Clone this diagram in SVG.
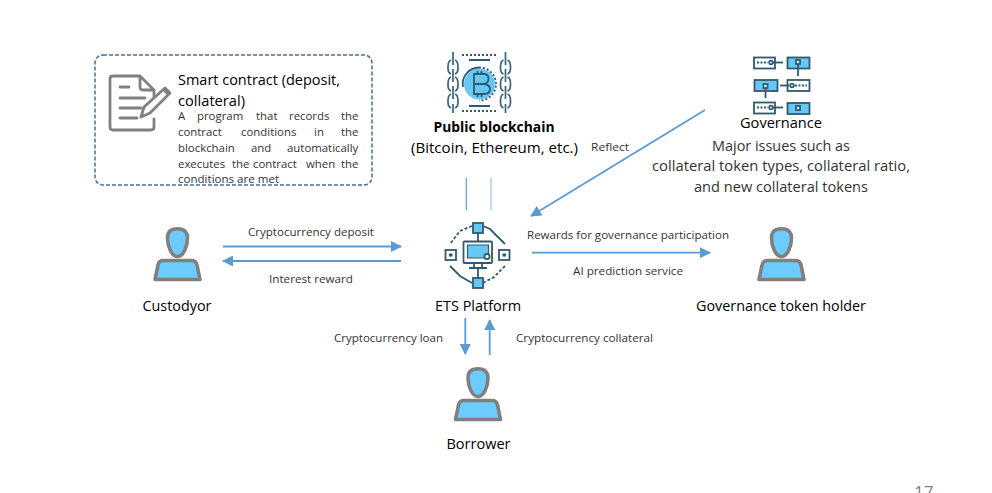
<svg xmlns="http://www.w3.org/2000/svg" width="992" height="493" viewBox="0 0 992 493">
<style>
text{font-family:"Open Sans","Noto Sans","Liberation Sans",sans-serif;fill:#000}
.t{font-size:15px;text-anchor:middle}
.d{font-size:15px;text-anchor:middle;fill:#333}
.s{font-size:11.4px;fill:#333}
.m{text-anchor:middle}
.c{fill:none;stroke:#5b9bd5;stroke-width:1.8}
.i{fill:none;stroke:#31596f;stroke-width:1.8}
.b{fill:#66c8f5;stroke:#31596f;stroke-width:1.8}
.w{fill:#fff;stroke:#31596f;stroke-width:1.8}
.g{fill:none;stroke:#808080;stroke-width:2.800;stroke-linecap:round;stroke-linejoin:round}
</style>
<defs>
<marker id="a" markerUnits="userSpaceOnUse" markerWidth="11" markerHeight="11" refX="10" refY="5.500" orient="auto"><path d="M0 0L11 5.500L0 11Z" fill="#5b9bd5"/></marker>
<symbol id="person" width="50" height="55" viewBox="0 0 50 55" overflow="visible">
<path d="M24.500 1.800C17 1.800 14.500 6 14.500 11C14.500 19 18.500 29.500 24.500 29.500C30.500 29.500 34.500 19 34.500 11C34.500 6 32 1.800 24.500 1.800Z" fill="#6ccbff" stroke="#808080" stroke-width="3.600"/>
<path d="M2 52.500L5 38Q6 33.500 10.500 33.500L38.500 33.500Q43 33.500 44 38L47 52.500Z" fill="#6ccbff" stroke="#808080" stroke-width="3.600" stroke-linejoin="round"/>
</symbol>
<g id="chain" fill="none" stroke="#3b6478" stroke-width="1.700">
<path d="M5 0V13M0 15Q0 9 3 8M10 15Q10 9 7 8M0 15V16Q0 21 3 22M10 15V16Q10 21 7 22"/>
<path d="M5 17V30M0 32Q0 26 3 25M10 32Q10 26 7 25M0 32V33Q0 38 3 39M10 32V33Q10 38 7 39"/>
<path d="M5 34V47M0 49Q0 43 3 42M10 49Q10 43 7 42M0 49V50Q0 55 3 56M10 49V50Q10 55 7 56M5 52V61"/>
</g>
</defs>
<rect width="992" height="493" fill="#fff"/>

<g id="connectors">
<path class="c" d="M466.300 178V210" style="stroke-width:1.200"/>
<path class="c" d="M491 178V210" style="stroke-width:1.200" opacity=".6"/>
<path class="c" d="M705 110L531 216" marker-end="url(#a)"/>
<path class="c" d="M223 246.500H401" marker-end="url(#a)"/>
<path class="c" d="M401 261H223" marker-end="url(#a)"/>
<path class="c" d="M532 252.700H710" marker-end="url(#a)"/>
<path class="c" d="M465.300 318V354" marker-end="url(#a)"/>
<path class="c" d="M489.700 355V320" marker-end="url(#a)"/>
</g>

<g id="edge-labels">
<text class="s m" x="311" y="236" textLength="126" lengthAdjust="spacingAndGlyphs">Cryptocurrency deposit</text>
<text class="s m" x="311" y="283" textLength="84" lengthAdjust="spacingAndGlyphs">Interest reward</text>
<text class="s m" x="628" y="239" textLength="202" lengthAdjust="spacingAndGlyphs">Rewards for governance participation</text>
<text class="s m" x="628" y="275" textLength="110" lengthAdjust="spacingAndGlyphs">AI prediction service</text>
<text class="s m" x="388.500" y="342" textLength="109" lengthAdjust="spacingAndGlyphs">Cryptocurrency loan</text>
<text class="s m" x="584.500" y="342" textLength="137" lengthAdjust="spacingAndGlyphs">Cryptocurrency collateral</text>
<text class="s" x="591" y="151" textLength="38" lengthAdjust="spacingAndGlyphs">Reflect</text>
</g>

<g id="smart-contract">
<rect x="95" y="55" width="277" height="130" rx="8" fill="none" stroke="#41719c" stroke-width="1.500" stroke-dasharray="4 2"/>
<path class="g" d="M140 76H113Q110 76 110 79V127Q110 130 113 130H151Q154 130 154 127V119M154 97V90L140 76V87Q140 90 143 90H154"/>
<path class="g" d="M120 87H129M120 98H145M120 108H141M120 118H137"/>
<path d="M141 117L144 107L165 88L170 93L150 113Z" fill="#fff" stroke="#808080" stroke-width="2.800" stroke-linejoin="round"/>
<path d="M164 89L169.500 94.500" stroke="#808080" stroke-width="4"/>
<text x="178" y="85" font-size="15" textLength="162" lengthAdjust="spacingAndGlyphs">Smart contract (deposit,</text>
<text x="178" y="106" font-size="15" textLength="67" lengthAdjust="spacingAndGlyphs">collateral)</text>
<text class="s" y="120"><tspan x="178">A</tspan><tspan x="197">program</tspan><tspan x="256">that</tspan><tspan x="289">records</tspan><tspan x="341">the</tspan></text>
<text class="s" y="136"><tspan x="178">contract</tspan><tspan x="241">conditions</tspan><tspan x="314">in</tspan><tspan x="341">the</tspan></text>
<text class="s" y="152"><tspan x="178">blockchain</tspan><tspan x="251">and</tspan><tspan x="287">automatically</tspan></text>
<text class="s" y="168"><tspan x="178">executes</tspan><tspan x="232">the</tspan><tspan x="253">contract</tspan><tspan x="306">when</tspan><tspan x="341">the</tspan></text>
<text class="s" x="178" y="183" textLength="101" lengthAdjust="spacingAndGlyphs">conditions are met</text>
</g>

<g id="public-blockchain">
<use href="#chain" x="448" y="52"/>
<use href="#chain" x="500.500" y="52"/>
<path class="i" d="M462 55H497M462 111H497" stroke-dasharray="2 2"/>
<path class="i" d="M469 60H490M469 106H490"/>
<circle cx="479.500" cy="84" r="15.500" fill="#66c8f5"/>
<path class="i" d="M463 87A16.500 16.500 0 0 1 479 67.500"/>
<path class="i" d="M479 67.500A16.500 16.500 0 0 1 496 84A16.500 16.500 0 0 1 479 100.500" stroke-dasharray="2 2"/>
<path class="i" d="M474 74H484Q488.500 74 488.500 79Q488.500 83 484 84Q490 85 490 89Q490 94 484 94H474ZM474 84H484M477.500 71V74M481.500 71V74M477.500 94V97M481.500 94V97"/>
<text class="t" x="494" y="132" font-weight="700" textLength="121" lengthAdjust="spacingAndGlyphs">Public blockchain</text>
<text class="t" x="494.500" y="153" textLength="167" lengthAdjust="spacingAndGlyphs">(Bitcoin, Ethereum, etc.)</text>
</g>

<g id="governance">
<rect class="w" x="754" y="57.500" width="21" height="11"/>
<path class="i" d="M757 62.500H768" stroke-dasharray="2 1.500"/><circle class="w" cx="771" cy="62.500" r="1.800"/><path class="i" d="M773 62.500H783"/>
<rect class="b" x="787.500" y="57.500" width="22" height="11"/><rect class="w" x="796" y="60" width="4" height="4"/><path class="i" d="M798 64V76"/>
<rect class="b" x="754.500" y="80" width="23" height="11"/><rect class="w" x="763.500" y="84" width="4" height="4"/><path class="i" d="M765.500 88V98"/>
<rect class="w" x="787.500" y="80" width="22" height="11"/>
<path class="i" d="M780 85.500H789"/><circle class="w" cx="792" cy="85.500" r="1.800"/><path class="i" d="M795 85.500H807" stroke-dasharray="2 1.500"/>
<rect class="w" x="754" y="102.500" width="21" height="11"/>
<path class="i" d="M757 107.500H768" stroke-dasharray="2 1.500"/><circle class="w" cx="771" cy="107.500" r="1.800"/><path class="i" d="M773 107.500H783"/>
<rect class="b" x="787.500" y="103" width="22" height="11"/><rect class="w" x="796" y="106" width="4" height="4"/>
<text class="t" x="781" y="128" textLength="82" lengthAdjust="spacingAndGlyphs">Governance</text>
<text class="d" x="781" y="151" textLength="138" lengthAdjust="spacingAndGlyphs">Major issues such as</text>
<text class="d" x="781" y="171" textLength="258" lengthAdjust="spacingAndGlyphs">collateral token types, collateral ratio,</text>
<text class="d" x="781" y="192" textLength="174" lengthAdjust="spacingAndGlyphs">and new collateral tokens</text>
</g>

<g id="ets-platform">
<path class="i" d="M483 226L490 229L505 244M450 266L460 276L472 283"/>
<path class="i" d="M472 226L460 231L450 244M505 266L494 277L483 283" stroke-dasharray="3 2"/>
<rect class="b" x="473" y="223" width="10" height="10"/><path class="i" d="M478 233V242"/>
<rect class="b" x="473" y="278" width="10" height="10"/><path class="i" d="M478 268V278"/>
<rect class="w" x="445.500" y="250" width="10.500" height="10"/><rect x="449" y="253.500" width="3.500" height="3" fill="#31596f"/>
<rect class="w" x="499" y="250" width="10.500" height="10"/><rect x="502.500" y="253.500" width="3.500" height="3" fill="#31596f"/>
<rect class="w" x="463.500" y="241.500" width="28.500" height="21.500" rx="1"/>
<path d="M467.500 245H488.500V258H467.500Z" fill="#66c8f5" stroke="#31596f" stroke-width="1.200"/>
<circle class="w" cx="487" cy="256.500" r="2.600"/>
<path class="i" d="M474 263V267M482 263V267M469 268H487"/>
<text class="t" x="478" y="311" textLength="86" lengthAdjust="spacingAndGlyphs">ETS Platform</text>
</g>

<g id="custodyor"><use href="#person" x="153" y="227"/><text class="t" x="177" y="311" textLength="69" lengthAdjust="spacingAndGlyphs">Custodyor</text></g>
<g id="governance-token-holder"><use href="#person" x="757" y="227"/><text class="t" x="781" y="311" textLength="170" lengthAdjust="spacingAndGlyphs">Governance token holder</text></g>
<g id="borrower"><use href="#person" x="453.500" y="367"/><text class="t" x="478.500" y="449" textLength="64" lengthAdjust="spacingAndGlyphs">Borrower</text></g>
<text x="914" y="498" font-size="17" style="fill:#808080">17</text>
</svg>
